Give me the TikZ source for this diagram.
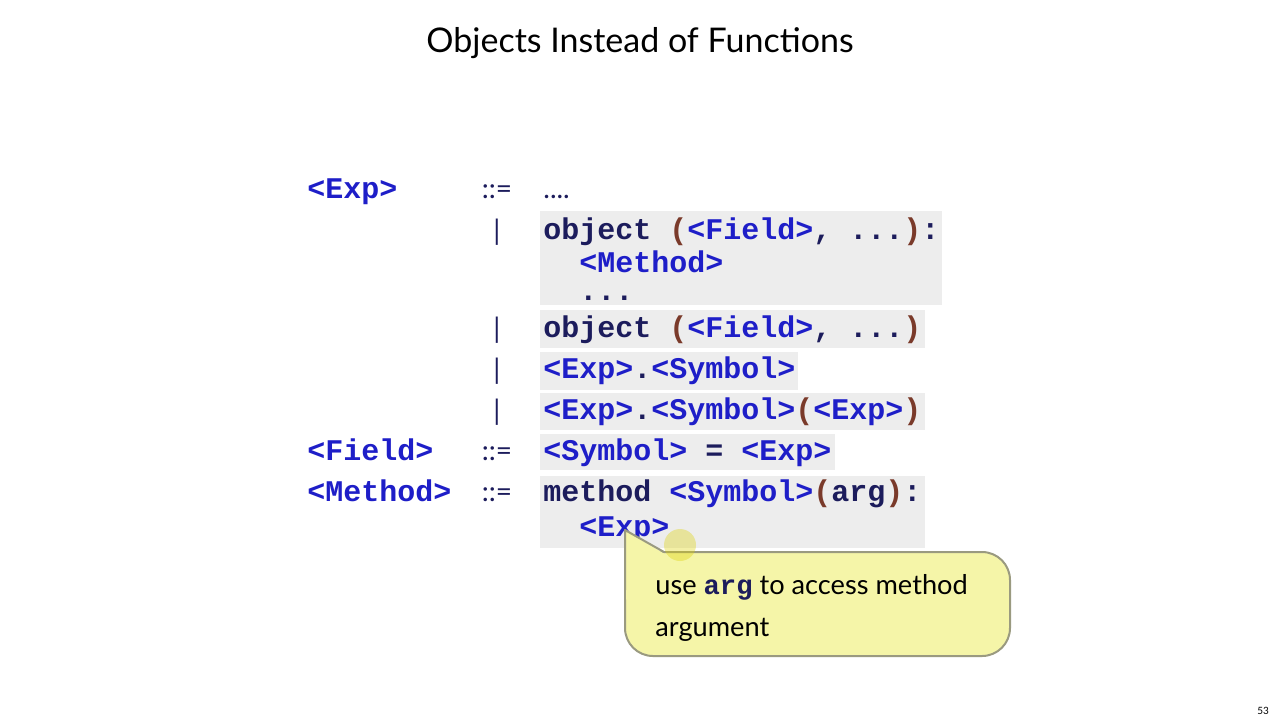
\documentclass[tikz,border=0pt]{standalone}
\usepackage{fontspec}
\setmainfont{Lato}
\setmonofont{Liberation Mono}
\definecolor{kw}{HTML}{1C1C5C}
\definecolor{nt}{HTML}{1E1EC8}
\definecolor{pr}{HTML}{7A3A2A}
\definecolor{boxg}{HTML}{EDEDED}
\definecolor{yel}{HTML}{F5F5A8}
\definecolor{yedge}{HTML}{9A9A80}
\newcommand{\NTx}[1]{\textcolor{nt}{<#1>}}
\newcommand{\PPx}[1]{\textcolor{pr}{#1}}
\tikzset{
  code/.style={anchor=base west,inner sep=0pt,font=\fontsize{15pt}{17pt}\ttfamily\bfseries,text=kw},
  bar/.style={anchor=base,inner sep=0pt,font=\fontsize{14pt}{16pt}\selectfont,text=kw},
  gbox/.style={fill=boxg,draw=none},
}
\begin{document}
\begin{tikzpicture}[x=0.5pt,y=-0.5pt]
\useasboundingbox (0,0) rectangle (1280,720);
\fill[white] (0,0) rectangle (1280,720);
\node[font=\fontsize{17pt}{20pt}\selectfont,anchor=base] (title) at (640,52) {Objects Instead of Functions};
% boxes
\fill[gbox] (540,211) rectangle (942,305);
\fill[gbox] (540,310) rectangle (925,348);
\fill[gbox] (540,352) rectangle (798,390);
\fill[gbox] (540,393) rectangle (925,430);
\fill[gbox] (540,434) rectangle (835,470);
\fill[gbox] (540,476) rectangle (925,548);
% left column
\node[code] (l1) at (307,198) {\NTx{Exp}};
\node[code] (l2) at (307,460) {\NTx{Field}};
\node[code] (l3) at (307,501) {\NTx{Method}};
\node[bar] (d1) at (497,198) {::=};
\node[bar] (d2) at (497,460) {::=};
\node[bar] (d3) at (497,501) {::=};
\node[bar] (b1) at (497,240) {|};
\node[bar] (b2) at (497,338) {|};
\node[bar] (b3) at (497,379) {|};
\node[bar] (b4) at (497,420) {|};
\node[bar,anchor=base west] (r0) at (543,198) {....};
\node[code] (r1) at (543,239) {object \PPx{(}\NTx{Field}, ...\PPx{)}:};
\node[code] (r1b) at (579,272) {\NTx{Method}};
\node[code] (r1c) at (579,300) {...};
\node[code] (r2) at (543,337) {object \PPx{(}\NTx{Field}, ...\PPx{)}};
\node[code] (r3) at (543,378) {\NTx{Exp}.\NTx{Symbol}};
\node[code] (r4) at (543,419) {\NTx{Exp}.\NTx{Symbol}\PPx{(}\NTx{Exp}\PPx{)}};
\node[code] (r5) at (543,460) {\NTx{Symbol} = \NTx{Exp}};
\node[code] (r6) at (543,501) {method \NTx{Symbol}\PPx{(}arg\PPx{)}:};
\node[code] (r6b) at (579,536) {\NTx{Exp}};
% callout
\draw[draw=yedge,fill=yel,line width=1pt,rounded corners=14pt] (625,552) rectangle (1010,656);
\fill[yel] (626,530) -- (664,553.5) -- (626,600) -- cycle;
\draw[draw=yedge,line width=1pt,line join=round] (625,590) -- (625,530) -- (664,552);
\node[anchor=base west,inner sep=0pt,font=\fontsize{13.6pt}{16pt}\selectfont] (ct1) at (655,594) {use \textcolor{kw}{\ttfamily\bfseries arg} to access method};
\node[anchor=base west,inner sep=0pt,font=\fontsize{13.6pt}{16pt}\selectfont] (ct2) at (655,636) {argument};
\fill[yellow!70!olive,opacity=0.35] (680,545) circle (16);
\node[font=\tiny,anchor=base east] (pg) at (1276,714) {53};
\end{tikzpicture}
\end{document}
